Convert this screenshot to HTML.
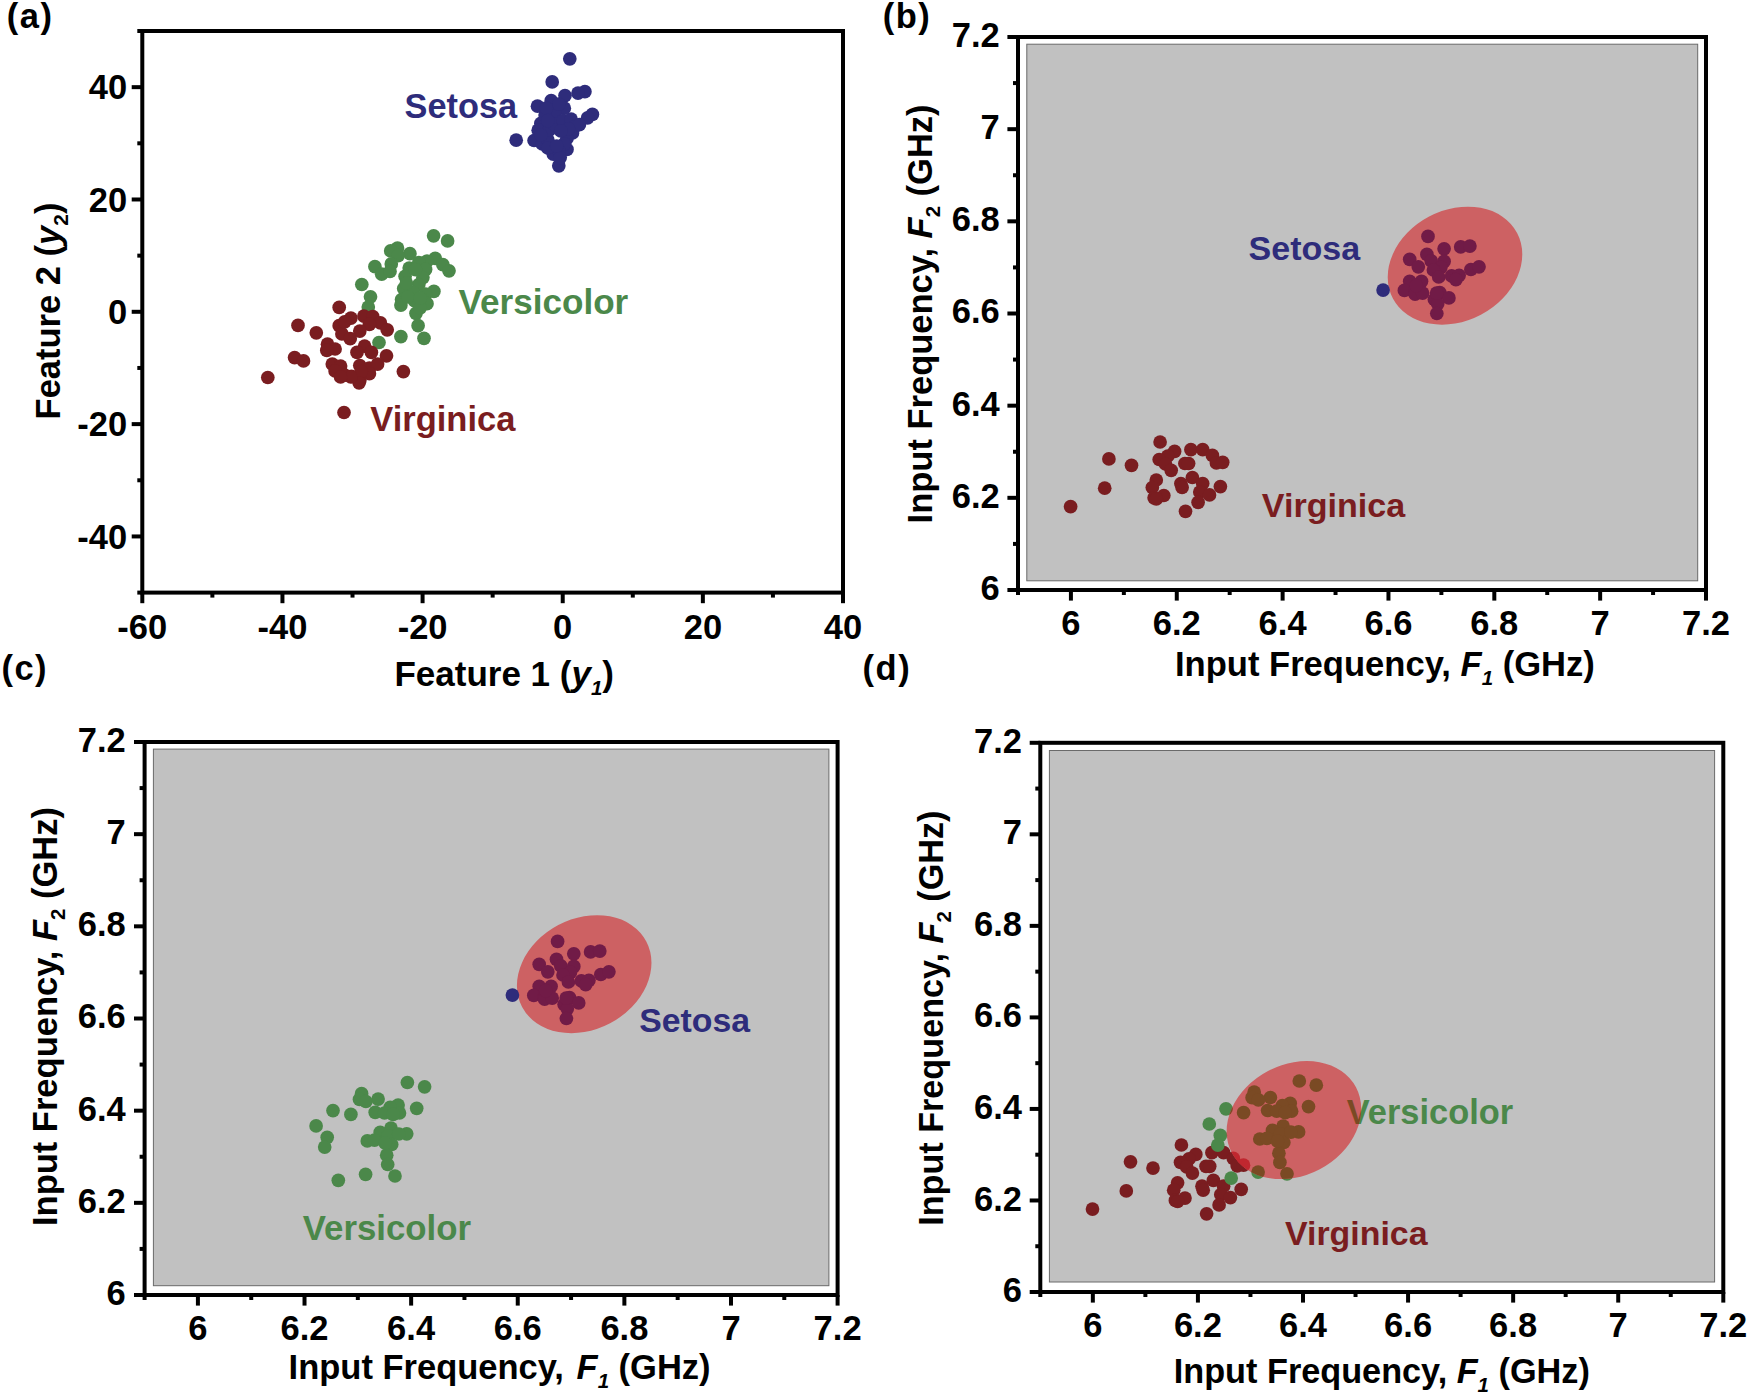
<!DOCTYPE html><html><head><meta charset="utf-8"><title>Figure</title><style>html,body{margin:0;padding:0;background:#fff}svg{display:block}text{font-family:"Liberation Sans",Arial,sans-serif;font-weight:bold}</style></head><body>
<svg width="1749" height="1397" viewBox="0 0 1749 1397">
<rect width="1749" height="1397" fill="#fff"/>
<g fill="#2e2c7b"><circle cx="569.8" cy="58.8" r="6.85"/><circle cx="552.2" cy="81.9" r="6.85"/><circle cx="584.9" cy="91.7" r="6.85"/><circle cx="578.0" cy="93.1" r="6.85"/><circle cx="565.0" cy="95.6" r="6.85"/><circle cx="551.2" cy="100.7" r="6.85"/><circle cx="537.5" cy="106.2" r="6.85"/><circle cx="592.4" cy="114.4" r="6.85"/><circle cx="587.6" cy="117.8" r="6.85"/><circle cx="516.2" cy="140.2" r="6.85"/><circle cx="534.1" cy="140.5" r="6.85"/><circle cx="558.8" cy="165.8" r="6.85"/><circle cx="553.3" cy="154.2" r="6.85"/><circle cx="567.0" cy="149.4" r="6.85"/><circle cx="564.3" cy="108.2" r="6.85"/><circle cx="554.7" cy="112.3" r="6.85"/><circle cx="545.1" cy="115.1" r="6.85"/><circle cx="540.9" cy="123.3" r="6.85"/><circle cx="538.2" cy="130.2" r="6.85"/><circle cx="542.3" cy="143.9" r="6.85"/><circle cx="547.8" cy="139.8" r="6.85"/><circle cx="549.2" cy="130.2" r="6.85"/><circle cx="554.7" cy="124.7" r="6.85"/><circle cx="562.9" cy="120.6" r="6.85"/><circle cx="571.1" cy="119.2" r="6.85"/><circle cx="575.2" cy="126.1" r="6.85"/><circle cx="572.5" cy="132.9" r="6.85"/><circle cx="567.0" cy="138.4" r="6.85"/><circle cx="564.3" cy="143.9" r="6.85"/><circle cx="558.8" cy="150.8" r="6.85"/><circle cx="560.2" cy="157.6" r="6.85"/><circle cx="547.8" cy="148.0" r="6.85"/><circle cx="579.4" cy="124.7" r="6.85"/><circle cx="558.8" cy="104.1" r="6.85"/><circle cx="546.4" cy="108.2" r="6.85"/><circle cx="568.4" cy="128.8" r="6.85"/><circle cx="560.8" cy="130.9" r="6.85"/><circle cx="547.8" cy="120.6" r="6.85"/><circle cx="540.9" cy="135.0" r="6.85"/><circle cx="556.7" cy="146.0" r="6.85"/></g>
<g fill="#4b884a"><circle cx="433.6" cy="235.8" r="6.85"/><circle cx="447.6" cy="240.9" r="6.85"/><circle cx="397.5" cy="248.1" r="6.85"/><circle cx="390.7" cy="250.9" r="6.85"/><circle cx="409.9" cy="253.6" r="6.85"/><circle cx="398.2" cy="255.7" r="6.85"/><circle cx="435.2" cy="258.4" r="6.85"/><circle cx="427.0" cy="261.2" r="6.85"/><circle cx="418.8" cy="262.5" r="6.85"/><circle cx="442.8" cy="264.6" r="6.85"/><circle cx="449.0" cy="270.8" r="6.85"/><circle cx="374.9" cy="266.7" r="6.85"/><circle cx="381.7" cy="274.2" r="6.85"/><circle cx="391.3" cy="263.9" r="6.85"/><circle cx="390.0" cy="271.5" r="6.85"/><circle cx="409.2" cy="268.0" r="6.85"/><circle cx="425.6" cy="269.4" r="6.85"/><circle cx="405.1" cy="276.3" r="6.85"/><circle cx="422.9" cy="277.6" r="6.85"/><circle cx="418.8" cy="284.5" r="6.85"/><circle cx="361.8" cy="284.5" r="6.85"/><circle cx="403.7" cy="288.6" r="6.85"/><circle cx="433.9" cy="291.4" r="6.85"/><circle cx="413.3" cy="292.7" r="6.85"/><circle cx="425.6" cy="294.1" r="6.85"/><circle cx="370.5" cy="296.8" r="6.85"/><circle cx="401.6" cy="299.6" r="6.85"/><circle cx="414.7" cy="301.0" r="6.85"/><circle cx="427.0" cy="303.7" r="6.85"/><circle cx="400.9" cy="305.1" r="6.85"/><circle cx="368.3" cy="307.1" r="6.85"/><circle cx="416.0" cy="313.3" r="6.85"/><circle cx="418.1" cy="325.7" r="6.85"/><circle cx="400.9" cy="336.6" r="6.85"/><circle cx="424.0" cy="338.3" r="6.85"/><circle cx="379.0" cy="342.5" r="6.85"/><circle cx="420.2" cy="307.8" r="6.85"/><circle cx="406.4" cy="283.1" r="6.85"/><circle cx="407.8" cy="296.8" r="6.85"/><circle cx="415.4" cy="269.7" r="6.85"/><circle cx="420.2" cy="298.2" r="6.85"/></g>
<g fill="#7a1d20"><circle cx="339.2" cy="307.4" r="6.85"/><circle cx="298.0" cy="325.4" r="6.85"/><circle cx="316.3" cy="332.8" r="6.85"/><circle cx="350.9" cy="318.1" r="6.85"/><circle cx="363.9" cy="316.1" r="6.85"/><circle cx="372.8" cy="316.7" r="6.85"/><circle cx="339.2" cy="325.7" r="6.85"/><circle cx="380.4" cy="322.9" r="6.85"/><circle cx="387.2" cy="329.8" r="6.85"/><circle cx="369.4" cy="324.3" r="6.85"/><circle cx="359.8" cy="331.1" r="6.85"/><circle cx="341.9" cy="333.9" r="6.85"/><circle cx="350.2" cy="338.7" r="6.85"/><circle cx="327.5" cy="344.2" r="6.85"/><circle cx="364.6" cy="346.2" r="6.85"/><circle cx="335.1" cy="349.0" r="6.85"/><circle cx="326.8" cy="350.4" r="6.85"/><circle cx="357.0" cy="352.4" r="6.85"/><circle cx="371.4" cy="352.4" r="6.85"/><circle cx="386.5" cy="355.8" r="6.85"/><circle cx="294.6" cy="357.6" r="6.85"/><circle cx="303.5" cy="360.9" r="6.85"/><circle cx="332.3" cy="364.1" r="6.85"/><circle cx="340.6" cy="366.1" r="6.85"/><circle cx="359.8" cy="365.5" r="6.85"/><circle cx="369.4" cy="368.2" r="6.85"/><circle cx="377.6" cy="364.1" r="6.85"/><circle cx="403.4" cy="371.6" r="6.85"/><circle cx="267.8" cy="377.5" r="6.85"/><circle cx="351.5" cy="376.4" r="6.85"/><circle cx="344.7" cy="375.1" r="6.85"/><circle cx="369.4" cy="373.7" r="6.85"/><circle cx="359.8" cy="380.5" r="6.85"/><circle cx="335.1" cy="370.9" r="6.85"/><circle cx="344.7" cy="321.8" r="6.85"/><circle cx="361.2" cy="371.6" r="6.85"/><circle cx="344.0" cy="412.5" r="6.85"/><circle cx="359.1" cy="382.8" r="6.85"/><circle cx="350.9" cy="377.0" r="6.85"/><circle cx="340.6" cy="377.0" r="6.85"/></g>
<rect x="142.30" y="31.00" width="700.70" height="561.60" fill="none" stroke="#000" stroke-width="4"/>
<g stroke="#000" stroke-width="4"><line x1="142.30" y1="592.60" x2="142.30" y2="603.20"/><line x1="212.37" y1="592.60" x2="212.37" y2="597.60"/><line x1="282.44" y1="592.60" x2="282.44" y2="603.20"/><line x1="352.51" y1="592.60" x2="352.51" y2="597.60"/><line x1="422.58" y1="592.60" x2="422.58" y2="603.20"/><line x1="492.65" y1="592.60" x2="492.65" y2="597.60"/><line x1="562.72" y1="592.60" x2="562.72" y2="603.20"/><line x1="632.79" y1="592.60" x2="632.79" y2="597.60"/><line x1="702.86" y1="592.60" x2="702.86" y2="603.20"/><line x1="772.93" y1="592.60" x2="772.93" y2="597.60"/><line x1="843.00" y1="592.60" x2="843.00" y2="603.20"/><line x1="142.30" y1="592.60" x2="137.30" y2="592.60"/><line x1="142.30" y1="536.44" x2="131.70" y2="536.44"/><line x1="142.30" y1="480.28" x2="137.30" y2="480.28"/><line x1="142.30" y1="424.12" x2="131.70" y2="424.12"/><line x1="142.30" y1="367.96" x2="137.30" y2="367.96"/><line x1="142.30" y1="311.80" x2="131.70" y2="311.80"/><line x1="142.30" y1="255.64" x2="137.30" y2="255.64"/><line x1="142.30" y1="199.48" x2="131.70" y2="199.48"/><line x1="142.30" y1="143.32" x2="137.30" y2="143.32"/><line x1="142.30" y1="87.16" x2="131.70" y2="87.16"/><line x1="142.30" y1="31.00" x2="137.30" y2="31.00"/></g>
<text x="142.3" y="638.7" text-anchor="middle" fill="#000" font-size="34.5" >-60</text>
<text x="282.4" y="638.7" text-anchor="middle" fill="#000" font-size="34.5" >-40</text>
<text x="422.6" y="638.7" text-anchor="middle" fill="#000" font-size="34.5" >-20</text>
<text x="562.7" y="638.7" text-anchor="middle" fill="#000" font-size="34.5" >0</text>
<text x="702.9" y="638.7" text-anchor="middle" fill="#000" font-size="34.5" >20</text>
<text x="843.0" y="638.7" text-anchor="middle" fill="#000" font-size="34.5" >40</text>
<text x="127.2" y="548.6" text-anchor="end" fill="#000" font-size="34.5" >-40</text>
<text x="127.2" y="436.3" text-anchor="end" fill="#000" font-size="34.5" >-20</text>
<text x="127.2" y="324.0" text-anchor="end" fill="#000" font-size="34.5" >0</text>
<text x="127.2" y="211.7" text-anchor="end" fill="#000" font-size="34.5" >20</text>
<text x="127.2" y="99.4" text-anchor="end" fill="#000" font-size="34.5" >40</text>
<text x="6.8" y="27.8" text-anchor="start" fill="#000" font-size="34.5" letter-spacing="1.5">(a)</text>
<text x="504.2" y="686" text-anchor="middle" font-size="35">Feature 1 (<tspan font-style="italic">y</tspan><tspan font-style="italic" font-size="20.5" dy="9">1</tspan><tspan dy="-9">)</tspan></text>
<text transform="translate(59.6 311.0) rotate(-90)" text-anchor="middle" font-size="34.5">Feature 2 (<tspan font-style="italic">y</tspan><tspan font-size="21" dy="8">2</tspan><tspan dy="-8">)</tspan></text>
<text x="404.6" y="117.8" text-anchor="start" fill="#2e2c7b" font-size="34.3" >Setosa</text>
<text x="458.6" y="314.1" text-anchor="start" fill="#4b884a" font-size="35.1" >Versicolor</text>
<text x="370.3" y="430.6" text-anchor="start" fill="#7a1d20" font-size="34.5" >Virginica</text>
<rect x="1026.8" y="44.2" width="670.9" height="536.6" fill="#c1c1c1" stroke="#6a6a6a" stroke-width="1"/>
<g fill="#7a1d20"><circle cx="1070.6" cy="506.6" r="6.85"/><circle cx="1104.7" cy="488.2" r="6.85"/><circle cx="1108.9" cy="458.9" r="6.85"/><circle cx="1131.5" cy="465.3" r="6.85"/><circle cx="1160.1" cy="442.0" r="6.85"/><circle cx="1174.6" cy="451.4" r="6.85"/><circle cx="1167.8" cy="456.0" r="6.85"/><circle cx="1159.2" cy="459.5" r="6.85"/><circle cx="1165.5" cy="464.0" r="6.85"/><circle cx="1171.2" cy="470.3" r="6.85"/><circle cx="1190.9" cy="449.7" r="6.85"/><circle cx="1202.7" cy="449.7" r="6.85"/><circle cx="1212.4" cy="455.4" r="6.85"/><circle cx="1184.9" cy="463.5" r="6.85"/><circle cx="1216.4" cy="462.9" r="6.85"/><circle cx="1222.7" cy="462.3" r="6.85"/><circle cx="1156.3" cy="480.0" r="6.85"/><circle cx="1152.3" cy="487.5" r="6.85"/><circle cx="1192.4" cy="477.5" r="6.85"/><circle cx="1180.9" cy="483.5" r="6.85"/><circle cx="1182.1" cy="487.5" r="6.85"/><circle cx="1202.7" cy="483.5" r="6.85"/><circle cx="1199.8" cy="492.0" r="6.85"/><circle cx="1209.5" cy="494.9" r="6.85"/><circle cx="1220.4" cy="486.6" r="6.85"/><circle cx="1154.1" cy="497.8" r="6.85"/><circle cx="1163.8" cy="495.5" r="6.85"/><circle cx="1156.3" cy="498.9" r="6.85"/><circle cx="1198.1" cy="502.3" r="6.85"/><circle cx="1185.5" cy="511.3" r="6.85"/><circle cx="1188.6" cy="463.5" r="6.85"/></g>
<ellipse cx="1455.0" cy="265.7" rx="70.2" ry="55.5" fill="#cd6163" transform="rotate(-27.8 1455.0 265.7)"/>
<g fill="#711b47"><circle cx="1428.0" cy="236.4" r="6.85"/><circle cx="1444.1" cy="248.8" r="6.85"/><circle cx="1460.7" cy="246.9" r="6.85"/><circle cx="1469.9" cy="246.1" r="6.85"/><circle cx="1409.7" cy="259.3" r="6.85"/><circle cx="1418.3" cy="266.8" r="6.85"/><circle cx="1426.9" cy="254.4" r="6.85"/><circle cx="1431.2" cy="260.9" r="6.85"/><circle cx="1444.1" cy="261.4" r="6.85"/><circle cx="1440.9" cy="267.3" r="6.85"/><circle cx="1433.4" cy="270.0" r="6.85"/><circle cx="1438.7" cy="277.0" r="6.85"/><circle cx="1451.6" cy="275.9" r="6.85"/><circle cx="1459.1" cy="275.4" r="6.85"/><circle cx="1455.9" cy="279.7" r="6.85"/><circle cx="1470.9" cy="269.5" r="6.85"/><circle cx="1479.0" cy="266.8" r="6.85"/><circle cx="1409.7" cy="281.3" r="6.85"/><circle cx="1421.5" cy="281.3" r="6.85"/><circle cx="1404.4" cy="290.4" r="6.85"/><circle cx="1415.1" cy="290.9" r="6.85"/><circle cx="1415.1" cy="294.2" r="6.85"/><circle cx="1422.6" cy="293.1" r="6.85"/><circle cx="1416.2" cy="285.6" r="6.85"/><circle cx="1439.8" cy="292.6" r="6.85"/><circle cx="1448.9" cy="297.9" r="6.85"/><circle cx="1434.4" cy="299.5" r="6.85"/><circle cx="1437.7" cy="303.8" r="6.85"/><circle cx="1436.8" cy="313.5" r="6.85"/><circle cx="1436.6" cy="293.1" r="6.85"/></g>
<g fill="#2e2c7b"><circle cx="1383.1" cy="290.1" r="6.85"/></g>
<text x="1248.6" y="260.3" text-anchor="start" fill="#2e2c7b" font-size="34" >Setosa</text>
<text x="1261.8" y="516.6" text-anchor="start" fill="#7a1d20" font-size="34.1" >Virginica</text>
<rect x="1018.00" y="37.00" width="688.00" height="553.00" fill="none" stroke="#000" stroke-width="4"/>
<g stroke="#000" stroke-width="4"><line x1="1018.00" y1="590.00" x2="1018.00" y2="595.00"/><line x1="1070.92" y1="590.00" x2="1070.92" y2="600.60"/><line x1="1123.85" y1="590.00" x2="1123.85" y2="595.00"/><line x1="1176.77" y1="590.00" x2="1176.77" y2="600.60"/><line x1="1229.69" y1="590.00" x2="1229.69" y2="595.00"/><line x1="1282.62" y1="590.00" x2="1282.62" y2="600.60"/><line x1="1335.54" y1="590.00" x2="1335.54" y2="595.00"/><line x1="1388.46" y1="590.00" x2="1388.46" y2="600.60"/><line x1="1441.38" y1="590.00" x2="1441.38" y2="595.00"/><line x1="1494.31" y1="590.00" x2="1494.31" y2="600.60"/><line x1="1547.23" y1="590.00" x2="1547.23" y2="595.00"/><line x1="1600.15" y1="590.00" x2="1600.15" y2="600.60"/><line x1="1653.08" y1="590.00" x2="1653.08" y2="595.00"/><line x1="1706.00" y1="590.00" x2="1706.00" y2="600.60"/><line x1="1018.00" y1="590.00" x2="1007.40" y2="590.00"/><line x1="1018.00" y1="543.92" x2="1013.00" y2="543.92"/><line x1="1018.00" y1="497.83" x2="1007.40" y2="497.83"/><line x1="1018.00" y1="451.75" x2="1013.00" y2="451.75"/><line x1="1018.00" y1="405.67" x2="1007.40" y2="405.67"/><line x1="1018.00" y1="359.58" x2="1013.00" y2="359.58"/><line x1="1018.00" y1="313.50" x2="1007.40" y2="313.50"/><line x1="1018.00" y1="267.42" x2="1013.00" y2="267.42"/><line x1="1018.00" y1="221.33" x2="1007.40" y2="221.33"/><line x1="1018.00" y1="175.25" x2="1013.00" y2="175.25"/><line x1="1018.00" y1="129.17" x2="1007.40" y2="129.17"/><line x1="1018.00" y1="83.08" x2="1013.00" y2="83.08"/><line x1="1018.00" y1="37.00" x2="1007.40" y2="37.00"/></g>
<text x="1070.9" y="634.7" text-anchor="middle" fill="#000" font-size="34.5" >6</text>
<text x="999.8" y="599.8" text-anchor="end" fill="#000" font-size="34.5" >6</text>
<text x="1176.8" y="634.7" text-anchor="middle" fill="#000" font-size="34.5" >6.2</text>
<text x="999.8" y="507.6" text-anchor="end" fill="#000" font-size="34.5" >6.2</text>
<text x="1282.6" y="634.7" text-anchor="middle" fill="#000" font-size="34.5" >6.4</text>
<text x="999.8" y="415.5" text-anchor="end" fill="#000" font-size="34.5" >6.4</text>
<text x="1388.5" y="634.7" text-anchor="middle" fill="#000" font-size="34.5" >6.6</text>
<text x="999.8" y="323.3" text-anchor="end" fill="#000" font-size="34.5" >6.6</text>
<text x="1494.3" y="634.7" text-anchor="middle" fill="#000" font-size="34.5" >6.8</text>
<text x="999.8" y="231.1" text-anchor="end" fill="#000" font-size="34.5" >6.8</text>
<text x="1600.2" y="634.7" text-anchor="middle" fill="#000" font-size="34.5" >7</text>
<text x="999.8" y="139.0" text-anchor="end" fill="#000" font-size="34.5" >7</text>
<text x="1706.0" y="634.7" text-anchor="middle" fill="#000" font-size="34.5" >7.2</text>
<text x="999.8" y="46.8" text-anchor="end" fill="#000" font-size="34.5" >7.2</text>
<text x="882.8" y="28.1" text-anchor="start" fill="#000" font-size="34.5" letter-spacing="1.5">(b)</text>
<text x="1384.9" y="676.3" text-anchor="middle" font-size="34.6">Input Frequency, <tspan font-style="italic" dx="0">F</tspan><tspan font-style="italic" font-size="20.5" dy="9">1</tspan><tspan dy="-9"> (GHz)</tspan></text>
<text transform="translate(932.3 313.9) rotate(-90)" text-anchor="middle" font-size="34.5">Input Frequency, <tspan font-style="italic">F</tspan><tspan font-size="20.5" dy="8">2</tspan><tspan dy="-8"> (GHz)</tspan></text>
<rect x="153.4" y="749.1" width="675.5" height="536.6" fill="#c1c1c1" stroke="#6a6a6a" stroke-width="1"/>
<g fill="#4b884a"><circle cx="407.4" cy="1082.5" r="6.85"/><circle cx="424.6" cy="1086.8" r="6.85"/><circle cx="361.6" cy="1093.7" r="6.85"/><circle cx="359.5" cy="1099.4" r="6.85"/><circle cx="378.1" cy="1099.1" r="6.85"/><circle cx="365.9" cy="1101.5" r="6.85"/><circle cx="398.1" cy="1105.1" r="6.85"/><circle cx="390.2" cy="1107.3" r="6.85"/><circle cx="416.7" cy="1108.3" r="6.85"/><circle cx="333.0" cy="1110.6" r="6.85"/><circle cx="350.9" cy="1114.4" r="6.85"/><circle cx="375.2" cy="1112.3" r="6.85"/><circle cx="384.5" cy="1113.0" r="6.85"/><circle cx="399.5" cy="1113.0" r="6.85"/><circle cx="393.1" cy="1114.4" r="6.85"/><circle cx="316.1" cy="1125.9" r="6.85"/><circle cx="391.0" cy="1128.0" r="6.85"/><circle cx="380.2" cy="1132.3" r="6.85"/><circle cx="406.7" cy="1133.8" r="6.85"/><circle cx="327.2" cy="1137.3" r="6.85"/><circle cx="388.1" cy="1135.9" r="6.85"/><circle cx="367.3" cy="1140.9" r="6.85"/><circle cx="374.5" cy="1140.2" r="6.85"/><circle cx="391.7" cy="1144.5" r="6.85"/><circle cx="324.7" cy="1147.1" r="6.85"/><circle cx="386.7" cy="1155.2" r="6.85"/><circle cx="387.7" cy="1164.5" r="6.85"/><circle cx="365.6" cy="1174.3" r="6.85"/><circle cx="395.0" cy="1176.0" r="6.85"/><circle cx="338.3" cy="1180.3" r="6.85"/><circle cx="398.8" cy="1134.0" r="6.85"/><circle cx="385.2" cy="1143.1" r="6.85"/></g>
<ellipse cx="584.2" cy="974.2" rx="70.2" ry="55.5" fill="#cd6163" transform="rotate(-27.8 584.2 974.2)"/>
<g fill="#711b47"><circle cx="557.6" cy="941.4" r="6.85"/><circle cx="573.8" cy="953.8" r="6.85"/><circle cx="590.6" cy="951.9" r="6.85"/><circle cx="599.8" cy="951.1" r="6.85"/><circle cx="539.2" cy="964.3" r="6.85"/><circle cx="547.8" cy="971.8" r="6.85"/><circle cx="556.5" cy="959.4" r="6.85"/><circle cx="560.8" cy="965.9" r="6.85"/><circle cx="573.8" cy="966.4" r="6.85"/><circle cx="570.5" cy="972.3" r="6.85"/><circle cx="563.0" cy="975.0" r="6.85"/><circle cx="568.4" cy="982.0" r="6.85"/><circle cx="581.4" cy="980.9" r="6.85"/><circle cx="588.9" cy="980.4" r="6.85"/><circle cx="585.7" cy="984.7" r="6.85"/><circle cx="600.8" cy="974.5" r="6.85"/><circle cx="608.9" cy="971.8" r="6.85"/><circle cx="539.2" cy="986.3" r="6.85"/><circle cx="551.1" cy="986.3" r="6.85"/><circle cx="533.8" cy="995.4" r="6.85"/><circle cx="544.6" cy="995.9" r="6.85"/><circle cx="544.6" cy="999.2" r="6.85"/><circle cx="552.2" cy="998.1" r="6.85"/><circle cx="545.7" cy="990.6" r="6.85"/><circle cx="569.5" cy="997.6" r="6.85"/><circle cx="578.7" cy="1002.9" r="6.85"/><circle cx="564.1" cy="1004.5" r="6.85"/><circle cx="567.3" cy="1008.8" r="6.85"/><circle cx="566.4" cy="1018.5" r="6.85"/><circle cx="566.2" cy="998.1" r="6.85"/></g>
<g fill="#2e2c7b"><circle cx="512.4" cy="995.1" r="6.85"/></g>
<text x="639.2" y="1031.5" text-anchor="start" fill="#2e2c7b" font-size="33.8" >Setosa</text>
<text x="302.8" y="1239.7" text-anchor="start" fill="#4b884a" font-size="34.8" >Versicolor</text>
<rect x="144.60" y="742.00" width="693.00" height="553.00" fill="none" stroke="#000" stroke-width="4"/>
<g stroke="#000" stroke-width="4"><line x1="144.60" y1="1295.00" x2="144.60" y2="1300.00"/><line x1="197.91" y1="1295.00" x2="197.91" y2="1305.60"/><line x1="251.22" y1="1295.00" x2="251.22" y2="1300.00"/><line x1="304.52" y1="1295.00" x2="304.52" y2="1305.60"/><line x1="357.83" y1="1295.00" x2="357.83" y2="1300.00"/><line x1="411.14" y1="1295.00" x2="411.14" y2="1305.60"/><line x1="464.45" y1="1295.00" x2="464.45" y2="1300.00"/><line x1="517.75" y1="1295.00" x2="517.75" y2="1305.60"/><line x1="571.06" y1="1295.00" x2="571.06" y2="1300.00"/><line x1="624.37" y1="1295.00" x2="624.37" y2="1305.60"/><line x1="677.68" y1="1295.00" x2="677.68" y2="1300.00"/><line x1="730.98" y1="1295.00" x2="730.98" y2="1305.60"/><line x1="784.29" y1="1295.00" x2="784.29" y2="1300.00"/><line x1="837.60" y1="1295.00" x2="837.60" y2="1305.60"/><line x1="144.60" y1="1295.00" x2="134.00" y2="1295.00"/><line x1="144.60" y1="1248.92" x2="139.60" y2="1248.92"/><line x1="144.60" y1="1202.83" x2="134.00" y2="1202.83"/><line x1="144.60" y1="1156.75" x2="139.60" y2="1156.75"/><line x1="144.60" y1="1110.67" x2="134.00" y2="1110.67"/><line x1="144.60" y1="1064.58" x2="139.60" y2="1064.58"/><line x1="144.60" y1="1018.50" x2="134.00" y2="1018.50"/><line x1="144.60" y1="972.42" x2="139.60" y2="972.42"/><line x1="144.60" y1="926.33" x2="134.00" y2="926.33"/><line x1="144.60" y1="880.25" x2="139.60" y2="880.25"/><line x1="144.60" y1="834.17" x2="134.00" y2="834.17"/><line x1="144.60" y1="788.08" x2="139.60" y2="788.08"/><line x1="144.60" y1="742.00" x2="134.00" y2="742.00"/></g>
<text x="197.9" y="1340.0" text-anchor="middle" fill="#000" font-size="34.5" >6</text>
<text x="125.7" y="1304.9" text-anchor="end" fill="#000" font-size="34.5" >6</text>
<text x="304.5" y="1340.0" text-anchor="middle" fill="#000" font-size="34.5" >6.2</text>
<text x="125.7" y="1212.7" text-anchor="end" fill="#000" font-size="34.5" >6.2</text>
<text x="411.1" y="1340.0" text-anchor="middle" fill="#000" font-size="34.5" >6.4</text>
<text x="125.7" y="1120.6" text-anchor="end" fill="#000" font-size="34.5" >6.4</text>
<text x="517.8" y="1340.0" text-anchor="middle" fill="#000" font-size="34.5" >6.6</text>
<text x="125.7" y="1028.4" text-anchor="end" fill="#000" font-size="34.5" >6.6</text>
<text x="624.4" y="1340.0" text-anchor="middle" fill="#000" font-size="34.5" >6.8</text>
<text x="125.7" y="936.2" text-anchor="end" fill="#000" font-size="34.5" >6.8</text>
<text x="731.0" y="1340.0" text-anchor="middle" fill="#000" font-size="34.5" >7</text>
<text x="125.7" y="844.1" text-anchor="end" fill="#000" font-size="34.5" >7</text>
<text x="837.6" y="1340.0" text-anchor="middle" fill="#000" font-size="34.5" >7.2</text>
<text x="125.7" y="751.9" text-anchor="end" fill="#000" font-size="34.5" >7.2</text>
<text x="1.4" y="679.6" text-anchor="start" fill="#000" font-size="34.5" letter-spacing="1.5">(c)</text>
<text x="499.6" y="1378.6" text-anchor="middle" font-size="34.5">Input Frequency, <tspan font-style="italic" dx="3">F</tspan><tspan font-style="italic" font-size="20.5" dy="9">1</tspan><tspan dy="-9"> (GHz)</tspan></text>
<text transform="translate(56.8 1016.5) rotate(-90)" text-anchor="middle" font-size="34.5">Input Frequency, <tspan font-style="italic">F</tspan><tspan font-size="20.5" dy="8">2</tspan><tspan dy="-8"> (GHz)</tspan></text>
<rect x="1049.4" y="750.5" width="665.2" height="531.5" fill="#c1c1c1" stroke="#6a6a6a" stroke-width="1"/>
<g fill="#7a1d20"><circle cx="1092.5" cy="1209.1" r="6.85"/><circle cx="1126.3" cy="1190.9" r="6.85"/><circle cx="1130.5" cy="1161.8" r="6.85"/><circle cx="1153.0" cy="1168.1" r="6.85"/><circle cx="1181.4" cy="1145.0" r="6.85"/><circle cx="1195.8" cy="1154.4" r="6.85"/><circle cx="1189.0" cy="1158.9" r="6.85"/><circle cx="1180.5" cy="1162.3" r="6.85"/><circle cx="1186.7" cy="1166.9" r="6.85"/><circle cx="1192.4" cy="1173.1" r="6.85"/><circle cx="1211.9" cy="1152.7" r="6.85"/><circle cx="1223.6" cy="1152.7" r="6.85"/><circle cx="1233.3" cy="1158.4" r="6.85"/><circle cx="1206.0" cy="1166.3" r="6.85"/><circle cx="1237.2" cy="1165.8" r="6.85"/><circle cx="1243.5" cy="1165.2" r="6.85"/><circle cx="1177.6" cy="1182.8" r="6.85"/><circle cx="1173.7" cy="1190.2" r="6.85"/><circle cx="1213.4" cy="1180.3" r="6.85"/><circle cx="1202.0" cy="1186.2" r="6.85"/><circle cx="1203.2" cy="1190.2" r="6.85"/><circle cx="1223.6" cy="1186.2" r="6.85"/><circle cx="1220.8" cy="1194.7" r="6.85"/><circle cx="1230.4" cy="1197.6" r="6.85"/><circle cx="1241.2" cy="1189.3" r="6.85"/><circle cx="1175.4" cy="1200.4" r="6.85"/><circle cx="1185.0" cy="1198.1" r="6.85"/><circle cx="1177.6" cy="1201.5" r="6.85"/><circle cx="1219.1" cy="1204.9" r="6.85"/><circle cx="1206.6" cy="1213.8" r="6.85"/><circle cx="1209.7" cy="1166.3" r="6.85"/></g>
<g fill="#4b884a"><circle cx="1299.3" cy="1081.0" r="6.85"/><circle cx="1316.3" cy="1085.2" r="6.85"/><circle cx="1254.2" cy="1092.0" r="6.85"/><circle cx="1252.1" cy="1097.7" r="6.85"/><circle cx="1270.4" cy="1097.5" r="6.85"/><circle cx="1258.4" cy="1099.9" r="6.85"/><circle cx="1290.2" cy="1103.4" r="6.85"/><circle cx="1282.4" cy="1105.6" r="6.85"/><circle cx="1308.5" cy="1106.6" r="6.85"/><circle cx="1226.0" cy="1108.8" r="6.85"/><circle cx="1243.6" cy="1112.7" r="6.85"/><circle cx="1267.6" cy="1110.5" r="6.85"/><circle cx="1276.7" cy="1111.2" r="6.85"/><circle cx="1291.6" cy="1111.2" r="6.85"/><circle cx="1285.2" cy="1112.7" r="6.85"/><circle cx="1209.3" cy="1124.0" r="6.85"/><circle cx="1283.1" cy="1126.2" r="6.85"/><circle cx="1272.5" cy="1130.4" r="6.85"/><circle cx="1298.6" cy="1131.9" r="6.85"/><circle cx="1220.3" cy="1135.4" r="6.85"/><circle cx="1280.3" cy="1134.0" r="6.85"/><circle cx="1259.8" cy="1139.0" r="6.85"/><circle cx="1266.9" cy="1138.3" r="6.85"/><circle cx="1283.8" cy="1142.5" r="6.85"/><circle cx="1217.8" cy="1145.1" r="6.85"/><circle cx="1278.9" cy="1153.2" r="6.85"/><circle cx="1279.9" cy="1162.4" r="6.85"/><circle cx="1258.1" cy="1172.1" r="6.85"/><circle cx="1287.0" cy="1173.8" r="6.85"/><circle cx="1231.2" cy="1178.1" r="6.85"/><circle cx="1290.9" cy="1132.1" r="6.85"/><circle cx="1277.5" cy="1141.1" r="6.85"/></g>
<text x="1346.8" y="1124.3" text-anchor="start" fill="#4b884a" font-size="34.4" >Versicolor</text>
<text x="1285.0" y="1244.9" text-anchor="start" fill="#7a1d20" font-size="33.9" >Virginica</text>
<clipPath id="ec"><ellipse cx="1293.9" cy="1120.1" rx="70.2" ry="55.5" transform="rotate(-27.8 1293.9 1120.1)"/></clipPath>
<ellipse cx="1293.9" cy="1120.1" rx="70.2" ry="55.5" fill="#cd6163" transform="rotate(-27.8 1293.9 1120.1)"/>
<g clip-path="url(#ec)">
<g fill="#c0272f"><circle cx="1092.5" cy="1209.1" r="6.85"/><circle cx="1126.3" cy="1190.9" r="6.85"/><circle cx="1130.5" cy="1161.8" r="6.85"/><circle cx="1153.0" cy="1168.1" r="6.85"/><circle cx="1181.4" cy="1145.0" r="6.85"/><circle cx="1195.8" cy="1154.4" r="6.85"/><circle cx="1189.0" cy="1158.9" r="6.85"/><circle cx="1180.5" cy="1162.3" r="6.85"/><circle cx="1186.7" cy="1166.9" r="6.85"/><circle cx="1192.4" cy="1173.1" r="6.85"/><circle cx="1211.9" cy="1152.7" r="6.85"/><circle cx="1223.6" cy="1152.7" r="6.85"/><circle cx="1233.3" cy="1158.4" r="6.85"/><circle cx="1206.0" cy="1166.3" r="6.85"/><circle cx="1237.2" cy="1165.8" r="6.85"/><circle cx="1243.5" cy="1165.2" r="6.85"/><circle cx="1177.6" cy="1182.8" r="6.85"/><circle cx="1173.7" cy="1190.2" r="6.85"/><circle cx="1213.4" cy="1180.3" r="6.85"/><circle cx="1202.0" cy="1186.2" r="6.85"/><circle cx="1203.2" cy="1190.2" r="6.85"/><circle cx="1223.6" cy="1186.2" r="6.85"/><circle cx="1220.8" cy="1194.7" r="6.85"/><circle cx="1230.4" cy="1197.6" r="6.85"/><circle cx="1241.2" cy="1189.3" r="6.85"/><circle cx="1175.4" cy="1200.4" r="6.85"/><circle cx="1185.0" cy="1198.1" r="6.85"/><circle cx="1177.6" cy="1201.5" r="6.85"/><circle cx="1219.1" cy="1204.9" r="6.85"/><circle cx="1206.6" cy="1213.8" r="6.85"/><circle cx="1209.7" cy="1166.3" r="6.85"/></g>
<g fill="#7a4a24"><circle cx="1299.3" cy="1081.0" r="6.85"/><circle cx="1316.3" cy="1085.2" r="6.85"/><circle cx="1254.2" cy="1092.0" r="6.85"/><circle cx="1252.1" cy="1097.7" r="6.85"/><circle cx="1270.4" cy="1097.5" r="6.85"/><circle cx="1258.4" cy="1099.9" r="6.85"/><circle cx="1290.2" cy="1103.4" r="6.85"/><circle cx="1282.4" cy="1105.6" r="6.85"/><circle cx="1308.5" cy="1106.6" r="6.85"/><circle cx="1226.0" cy="1108.8" r="6.85"/><circle cx="1243.6" cy="1112.7" r="6.85"/><circle cx="1267.6" cy="1110.5" r="6.85"/><circle cx="1276.7" cy="1111.2" r="6.85"/><circle cx="1291.6" cy="1111.2" r="6.85"/><circle cx="1285.2" cy="1112.7" r="6.85"/><circle cx="1209.3" cy="1124.0" r="6.85"/><circle cx="1283.1" cy="1126.2" r="6.85"/><circle cx="1272.5" cy="1130.4" r="6.85"/><circle cx="1298.6" cy="1131.9" r="6.85"/><circle cx="1220.3" cy="1135.4" r="6.85"/><circle cx="1280.3" cy="1134.0" r="6.85"/><circle cx="1259.8" cy="1139.0" r="6.85"/><circle cx="1266.9" cy="1138.3" r="6.85"/><circle cx="1283.8" cy="1142.5" r="6.85"/><circle cx="1217.8" cy="1145.1" r="6.85"/><circle cx="1278.9" cy="1153.2" r="6.85"/><circle cx="1279.9" cy="1162.4" r="6.85"/><circle cx="1258.1" cy="1172.1" r="6.85"/><circle cx="1287.0" cy="1173.8" r="6.85"/><circle cx="1231.2" cy="1178.1" r="6.85"/><circle cx="1290.9" cy="1132.1" r="6.85"/><circle cx="1277.5" cy="1141.1" r="6.85"/></g>
<text x="1346.8" y="1124.3" text-anchor="start" fill="#7a4a24" font-size="34.4" >Versicolor</text>
</g>
<rect x="1040.30" y="742.80" width="683.00" height="549.20" fill="none" stroke="#000" stroke-width="4"/>
<g stroke="#000" stroke-width="4"><line x1="1040.30" y1="1292.00" x2="1040.30" y2="1297.00"/><line x1="1092.84" y1="1292.00" x2="1092.84" y2="1302.60"/><line x1="1145.38" y1="1292.00" x2="1145.38" y2="1297.00"/><line x1="1197.92" y1="1292.00" x2="1197.92" y2="1302.60"/><line x1="1250.45" y1="1292.00" x2="1250.45" y2="1297.00"/><line x1="1302.99" y1="1292.00" x2="1302.99" y2="1302.60"/><line x1="1355.53" y1="1292.00" x2="1355.53" y2="1297.00"/><line x1="1408.07" y1="1292.00" x2="1408.07" y2="1302.60"/><line x1="1460.61" y1="1292.00" x2="1460.61" y2="1297.00"/><line x1="1513.15" y1="1292.00" x2="1513.15" y2="1302.60"/><line x1="1565.68" y1="1292.00" x2="1565.68" y2="1297.00"/><line x1="1618.22" y1="1292.00" x2="1618.22" y2="1302.60"/><line x1="1670.76" y1="1292.00" x2="1670.76" y2="1297.00"/><line x1="1723.30" y1="1292.00" x2="1723.30" y2="1302.60"/><line x1="1040.30" y1="1292.00" x2="1029.70" y2="1292.00"/><line x1="1040.30" y1="1246.23" x2="1035.30" y2="1246.23"/><line x1="1040.30" y1="1200.47" x2="1029.70" y2="1200.47"/><line x1="1040.30" y1="1154.70" x2="1035.30" y2="1154.70"/><line x1="1040.30" y1="1108.93" x2="1029.70" y2="1108.93"/><line x1="1040.30" y1="1063.17" x2="1035.30" y2="1063.17"/><line x1="1040.30" y1="1017.40" x2="1029.70" y2="1017.40"/><line x1="1040.30" y1="971.63" x2="1035.30" y2="971.63"/><line x1="1040.30" y1="925.87" x2="1029.70" y2="925.87"/><line x1="1040.30" y1="880.10" x2="1035.30" y2="880.10"/><line x1="1040.30" y1="834.33" x2="1029.70" y2="834.33"/><line x1="1040.30" y1="788.57" x2="1035.30" y2="788.57"/><line x1="1040.30" y1="742.80" x2="1029.70" y2="742.80"/></g>
<text x="1092.8" y="1336.9" text-anchor="middle" fill="#000" font-size="34.5" >6</text>
<text x="1022.0" y="1302.0" text-anchor="end" fill="#000" font-size="34.5" >6</text>
<text x="1197.9" y="1336.9" text-anchor="middle" fill="#000" font-size="34.5" >6.2</text>
<text x="1022.0" y="1210.5" text-anchor="end" fill="#000" font-size="34.5" >6.2</text>
<text x="1303.0" y="1336.9" text-anchor="middle" fill="#000" font-size="34.5" >6.4</text>
<text x="1022.0" y="1118.9" text-anchor="end" fill="#000" font-size="34.5" >6.4</text>
<text x="1408.1" y="1336.9" text-anchor="middle" fill="#000" font-size="34.5" >6.6</text>
<text x="1022.0" y="1027.4" text-anchor="end" fill="#000" font-size="34.5" >6.6</text>
<text x="1513.1" y="1336.9" text-anchor="middle" fill="#000" font-size="34.5" >6.8</text>
<text x="1022.0" y="935.9" text-anchor="end" fill="#000" font-size="34.5" >6.8</text>
<text x="1618.2" y="1336.9" text-anchor="middle" fill="#000" font-size="34.5" >7</text>
<text x="1022.0" y="844.3" text-anchor="end" fill="#000" font-size="34.5" >7</text>
<text x="1723.3" y="1336.9" text-anchor="middle" fill="#000" font-size="34.5" >7.2</text>
<text x="1022.0" y="752.8" text-anchor="end" fill="#000" font-size="34.5" >7.2</text>
<text x="862.6" y="679.6" text-anchor="start" fill="#000" font-size="34.5" letter-spacing="1.5">(d)</text>
<text x="1381.8" y="1383.3" text-anchor="middle" font-size="34.25">Input Frequency, <tspan font-style="italic" dx="0">F</tspan><tspan font-style="italic" font-size="20.5" dy="9">1</tspan><tspan dy="-9"> (GHz)</tspan></text>
<text transform="translate(943.3 1018.2) rotate(-90)" text-anchor="middle" font-size="34.2">Input Frequency, <tspan font-style="italic">F</tspan><tspan font-size="20.5" dy="8">2</tspan><tspan dy="-8"> (GHz)</tspan></text>
</svg></body></html>
